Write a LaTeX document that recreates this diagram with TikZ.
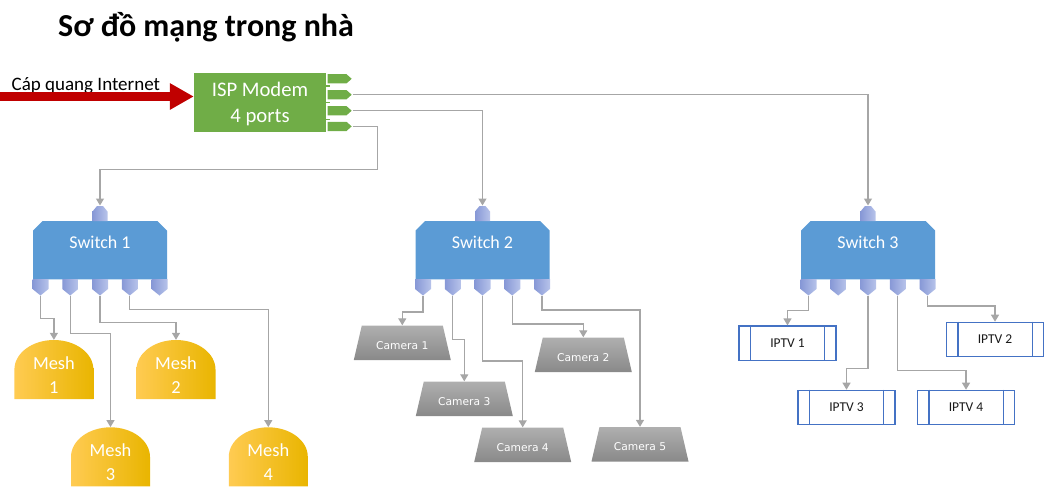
\documentclass[tikz,border=0pt]{standalone}
\usepackage{fontspec}
\setmainfont{Carlito}
\newfontfamily\dejavu{DejaVu Sans}
\usetikzlibrary{arrows.meta,calc}
\definecolor{lineg}{HTML}{A6A6A6}
\definecolor{modemgreen}{HTML}{70AD47}
\definecolor{swblue}{HTML}{5B9BD5}
\definecolor{portL}{HTML}{8798D6}
\definecolor{portR}{HTML}{B7C3EA}
\definecolor{meshL}{HTML}{FFCB52}
\definecolor{meshM}{HTML}{FFC000}
\definecolor{meshR}{HTML}{E9B500}
\definecolor{camT}{HTML}{AFAFAF}
\definecolor{camB}{HTML}{898989}
\definecolor{iptvblue}{HTML}{4472C4}
\definecolor{fiberred}{HTML}{C00000}
\begin{document}
\begin{tikzpicture}[x=1pt,y=-1pt,
  connector/.style={draw=lineg, line width=1.3pt, -{Triangle[length=7pt,width=8pt]}},
  swtext/.style={text=white, font=\fontsize{18}{22}\selectfont, inner sep=0pt},
  meshbox/.style={minimum width=79pt, minimum height=59pt, inner sep=0pt},
  meshtext/.style={text=white, align=center, font=\fontsize{18.4}{23.4}\selectfont, inner sep=0pt},
  camtext/.style={text=white, font=\dejavu\fontsize{10.7}{13}\selectfont, minimum width=97pt, minimum height=34.5pt, inner sep=0pt, text height=12.8pt, text depth=0pt},
  iptv/.style={draw=iptvblue, line width=1.2pt, fill=white, text=black!90, font=\fontsize{13.5}{16}\selectfont, minimum width=97pt, minimum height=34.5pt, inner sep=0pt},
  iptvline/.style={draw=iptvblue, line width=1.2pt},
  modembox/.style={fill=modemgreen, minimum width=132pt, minimum height=59pt, inner sep=0pt},
  modemtext/.style={text=white, align=center, font=\fontsize{20.7}{26.3}\selectfont, inner sep=0pt}
]
\useasboundingbox (0,0) rectangle (1044,496);

% title
\node[anchor=base west, font=\bfseries\fontsize{32}{38}\selectfont, inner sep=0pt] (title) at (58,36.5) {Sơ đồ mạng trong nhà};

% modem
\node[modembox] (modem) at (260,102.2) {};
\node[modemtext] (modemtxt) at (260,104.3) {ISP Modem\\4 ports};
\foreach \y in {85.7,102.3,119.3} {
  \fill[modemgreen] (325,\y-0.8) rectangle (330,\y+0.8);
}
\foreach \k/\y in {1/78.8,2/94.7,3/110.7,4/126.4} {
  \fill[modemgreen] (327.7,\y-4.6) -- (346.5,\y-4.6) -- (351.7,\y) -- (346.5,\y+4.6) -- (327.7,\y+4.6) -- cycle;
  \coordinate (mp\k) at (353,\y);
}

% internet fiber
\node[anchor=base west, font=\fontsize{19}{22}\selectfont, inner sep=0pt] (inetlabel) at (11.5,90.5) {Cáp quang Internet};
\coordinate (inet) at (0,96.5);
\draw[fiberred, line width=8.4pt, -{Triangle[length=24pt,width=25pt]}] (inet) -- (inet -| modem.west);

% switches
\foreach \n/\cx in {1/100,2/482.5,3/868} {
  \fill[swblue] (\cx-67,279.3) -- (\cx-67,230.5) -- (\cx-57.5,221) -- (\cx+57.5,221) -- (\cx+67,230.5) -- (\cx+67,279.3) -- cycle;
  \shade[left color=portL, right color=portR] (\cx-7.5,221) -- (\cx-7.5,211.5) -- (\cx-3,206) -- (\cx+3,206) -- (\cx+7.5,211.5) -- (\cx+7.5,221) -- cycle;
  \coordinate (s\n t) at (\cx,205.5);
  \foreach \k/\o in {1/-59.5,2/-29.75,3/0,4/29.75,5/59.5} {
    \shade[left color=portL, right color=portR] (\cx+\o-8,279) -- (\cx+\o-8,289) -- (\cx+\o,295.5) -- (\cx+\o+8,289) -- (\cx+\o+8,279) -- cycle;
    \coordinate (s\n p\k) at (\cx+\o,295.5);
  }
  \node[swtext] (s\n) at (\cx,242) {Switch \n};
}

% mesh nodes
\foreach \n/\cx/\ty in {1/53.9/340,2/176/340,3/110.5/427.3,4/268.3/427.3} {
  \shade[left color=meshL, middle color=meshM, right color=meshR] (\cx-39.5,\ty+59) -- (\cx-39.5,\ty+29.5) arc[start angle=180, end angle=0, x radius=39.5pt, y radius=29.5pt] -- (\cx+39.5,\ty+59) -- cycle;
  \node[meshbox] (m\n) at (\cx,\ty+29.5) {};
  \node[meshtext] (m\n txt) at (\cx,\ty+35) {Mesh\\\n};
}

% cameras
\foreach \n/\cx/\ty in {1/402.3/325.5,2/583.3/337.5,3/464.3/381.5,4/522.7/427.5,5/640/427} {
  \shade[top color=camT, bottom color=camB] (\cx-40.5,\ty) -- (\cx+40.5,\ty) -- (\cx+48.5,\ty+34.5) -- (\cx-48.5,\ty+34.5) -- cycle;
  \node[camtext] (c\n) at (\cx,\ty+17.25) {Camera \n};
}

% IPTV
\foreach \n/\cx/\ty in {1/787.5/326,2/995/322.3,3/846.5/390.3,4/966/390.3} {
  \node[iptv] (t\n) at (\cx,\ty+17.25) {IPTV \n};
  \draw[iptvline] ($(t\n.north west)+(12,0)$) -- ($(t\n.south west)+(12,0)$);
  \draw[iptvline] ($(t\n.north east)+(-12,0)$) -- ($(t\n.south east)+(-12,0)$);
}

% modem to switches
\draw[connector] (mp2) -| (s3t);
\draw[connector] (mp3) -| (s2t);
\draw[connector] (mp4) -- ++(24.5,0) -- ++(0,43) -| (s1t);

% switch 1
\draw[connector] (s1p1) -- ++(0,22.8) -| (m1.north);
\draw[connector] (s1p2) -- ++(0,37.8) -| (m3.north);
\draw[connector] (s1p3) -- ++(0,26.8) -| (m2.north);
\draw[connector] (s1p4) -- ++(0,13.8) -| (m4.north);

% switch 2
\draw[connector] (s2p1) -- ++(0,16.5) -| (c1.north);
\draw[connector] (s2p2) -- ++(0,43.8) -| (c3.north);
\draw[connector] (s2p3) -- ++(0,65.5) -| (c4.north);
\draw[connector] (s2p4) -- ++(0,28.5) -| (c2.north);
\draw[connector] (s2p5) -- ++(0,14.5) -| (c5.north);

% switch 3
\draw[connector] (s3p1) -- ++(0,15.2) -| (t1.north);
\draw[connector] (s3p3) -- ++(0,73.2) -| (t3.north);
\draw[connector] (s3p4) -- ++(0,75.2) -| (t4.north);
\draw[connector] (s3p5) -- ++(0,10.5) -| (t2.north);
\end{tikzpicture}
\end{document}
